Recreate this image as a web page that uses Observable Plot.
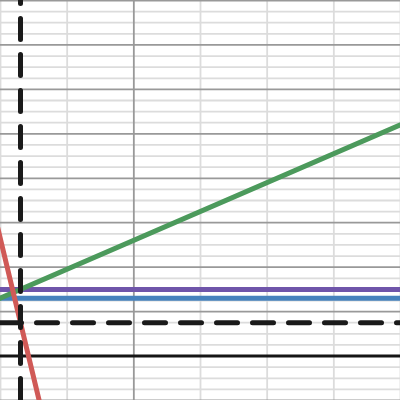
<!DOCTYPE html>
<html>
<head>
<meta charset="utf-8">
<script src="https://cdn.jsdelivr.net/npm/d3@7"></script>
<script src="https://cdn.jsdelivr.net/npm/@observablehq/plot@0.6"></script>
<style>
  html, body { margin: 0; padding: 0; background: #fff; }
  #chart { width: 400px; height: 400px; overflow: hidden; }
</style>
</head>
<body>
<div id="chart"></div>
<script>
// Axis window
const xDomain = [-2, 4];
const yDomain = [-1, 8];

// Grid ticks
const xMinorTicks = [-2, -1, 1, 2, 3, 4];
const xMajorTicks = [0];
const yMajorTicks = [-1, 0, 1, 2, 3, 4, 5, 6, 7, 8];
const yMinorTicks = [-0.75, -0.5, -0.25, 0.25, 0.5, 0.75, 1.25, 1.5, 1.75,
  2.25, 2.5, 2.75, 3.25, 3.5, 3.75, 4.25, 4.5, 4.75, 5.25, 5.5, 5.75,
  6.25, 6.5, 6.75, 7.25, 7.5, 7.75];

// Horizontal reference lines
const axisY = [0];
const dashedY = [0.75];
const dashedX = [-1.7];
const blueY = [1.3];
const purpleY = [1.5];

// Sloped lines (endpoints)
const greenX = [-2.2, 4.2];
const greenY = [1.175, 5.335];
const redX = [-2.1, -1.3];
const redY = [3.25, -1.75];

const green = greenX.map((x, i) => ({x, y: greenY[i]}));
const red = redX.map((x, i) => ({x, y: redY[i]}));

const plot = Plot.plot({
  width: 400,
  height: 400,
  margin: 0,
  x: {domain: xDomain, axis: null},
  y: {domain: yDomain, axis: null},
  marks: [
    Plot.ruleY(yMinorTicks, {stroke: "#dcdcdc", strokeWidth: 1.8}),
    Plot.ruleX(xMinorTicks, {stroke: "#dcdcdc", strokeWidth: 1.8}),
    Plot.ruleY(yMajorTicks, {stroke: "#999999", strokeWidth: 1.8}),
    Plot.ruleX(xMajorTicks, {stroke: "#999999", strokeWidth: 1.8}),
    Plot.ruleY(axisY, {stroke: "#151515", strokeWidth: 3}),
    Plot.ruleY(blueY, {stroke: "#4682bd", strokeWidth: 5}),
    Plot.ruleY(purpleY, {stroke: "#6f55aa", strokeWidth: 5}),
    Plot.line(green, {x: "x", y: "y", stroke: "#4c9a5c", strokeWidth: 5, clip: true}),
    Plot.line(red, {x: "x", y: "y", stroke: "#d05a57", strokeWidth: 5, clip: true}),
    Plot.ruleY(dashedY, {stroke: "#1a1a1a", strokeWidth: 5, strokeDasharray: "21,15", strokeDashoffset: 35.5, strokeLinecap: "round"}),
    Plot.ruleX(dashedX, {stroke: "#1a1a1a", strokeWidth: 5, strokeDasharray: "21,15", strokeDashoffset: 17.5, strokeLinecap: "round"})
  ]
});
document.getElementById("chart").appendChild(plot);
</script>
</body>
</html>
